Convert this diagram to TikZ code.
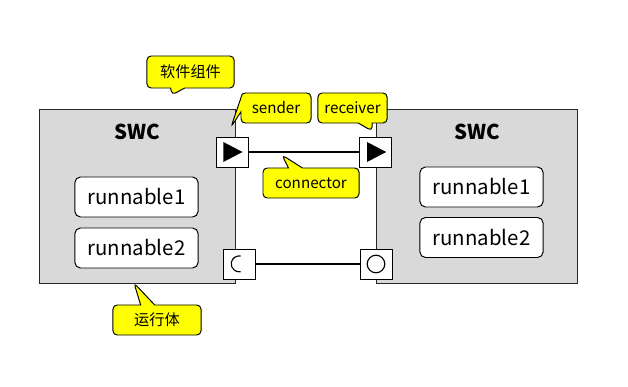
\documentclass[tikz,border=0pt]{standalone}
\usepackage{fontspec}
\setmainfont{Noto Sans CJK SC}
\usetikzlibrary{shapes.callouts,calc}
\definecolor{swcGrey}{RGB}{217,217,217}
\definecolor{noteYellow}{RGB}{255,255,0}
\tikzset{
    every node/.append style={align=center},
    swc/.style={rectangle,draw=black!85,line width=0.7pt,fill=swcGrey,
        minimum height=4.33cm},
    runbox/.style={rectangle,draw=black,line width=0.7pt,fill=white,rounded corners=4pt,
        minimum width=3.08cm,minimum height=1.0cm,font=\fontsize{14.5}{17}\selectfont},
    port/.style={rectangle,draw=black,line width=0.7pt,fill=white,
        minimum width=0.8cm,minimum height=0.75cm,inner sep=0pt},
    note/.style={rectangle callout,draw=black,line width=0.7pt,fill=noteYellow,
        rounded corners=3pt,minimum height=0.75cm,inner sep=1pt,callout pointer width=0.35cm,
        font=\fontsize{10.8}{13}\selectfont},
    wire/.style={line width=0.8pt}
}

\begin{document}
\begin{tikzpicture}[x=0.025cm,y=-0.025cm]
    \useasboundingbox (0,0) rectangle (628,386);
    % components
    \node[swc,minimum width=4.9cm]  (swcL) at (137.5,196.5) {};
    \node[swc,minimum width=5.0cm]  (swcR) at (477,196.5) {};
    \node[font=\fontsize{14.5}{17}\selectfont\bfseries] (titleL) at (137,132) {SWC};
    \node[font=\fontsize{14.5}{17}\selectfont\bfseries] (titleR) at (477,132) {SWC};
    \node[runbox] (runL1) at (136.5,197) {runnable1};
    \node[runbox] (runL2) at (136.5,248) {runnable2};
    \node[runbox] (runR1) at (481.5,187) {runnable1};
    \node[runbox] (runR2) at (481.5,237.5) {runnable2};
    % ports
    \node[port] (sendP) at (232.5,152) {};
    \node[port] (recvP) at (375,152) {};
    \node[port] (cliP)  at (239,264) {};
    \node[port] (srvP)  at (376,264) {};
    \fill ([shift={(-0.23cm,0.25cm)}]sendP.center) -- ([shift={(-0.23cm,-0.25cm)}]sendP.center)
        -- ([shift={(0.25cm,0cm)}]sendP.center) -- cycle;
    \fill ([shift={(-0.2cm,0.25cm)}]recvP.center) -- ([shift={(-0.2cm,-0.25cm)}]recvP.center)
        -- ([shift={(0.28cm,0cm)}]recvP.center) -- cycle;
    \draw[wire] ([shift={(0.04cm,0.2cm)}]cliP.center) arc[start angle=80,end angle=280,radius=0.2cm];
    \draw[wire] (srvP.center) circle[radius=0.22cm];
    % connectors
    \draw[wire] (sendP) -- (recvP);
    \draw[wire] (cliP) -- (srvP);
    % notes
    \coordinate (tipSwc)  at (172,95);
    \coordinate (tipSend) at (231,127);
    \coordinate (tipRecv) at (372,131);
    \coordinate (tipConn) at (282,155);
    \coordinate (tipRun)  at (134,283);
    \node[note,minimum width=2.18cm,minimum height=0.8cm,callout absolute pointer={(tipSwc)}]
        (noteSwc) at (190.5,72) {软件组件};
    \node[note,minimum width=1.75cm,callout absolute pointer={(tipSend)}]
        (noteSend) at (276,108) {sender};
    \node[note,minimum width=1.73cm,callout absolute pointer={(tipRecv)}]
        (noteRecv) at (352.5,108) {receiver};
    \node[note,minimum width=2.4cm,callout absolute pointer={(tipConn)}]
        (noteConn) at (311,183) {connector};
    \node[note,minimum width=2.2cm,callout absolute pointer={(tipRun)}]
        (noteRun) at (157,320) {运行体};
\end{tikzpicture}
\end{document}
